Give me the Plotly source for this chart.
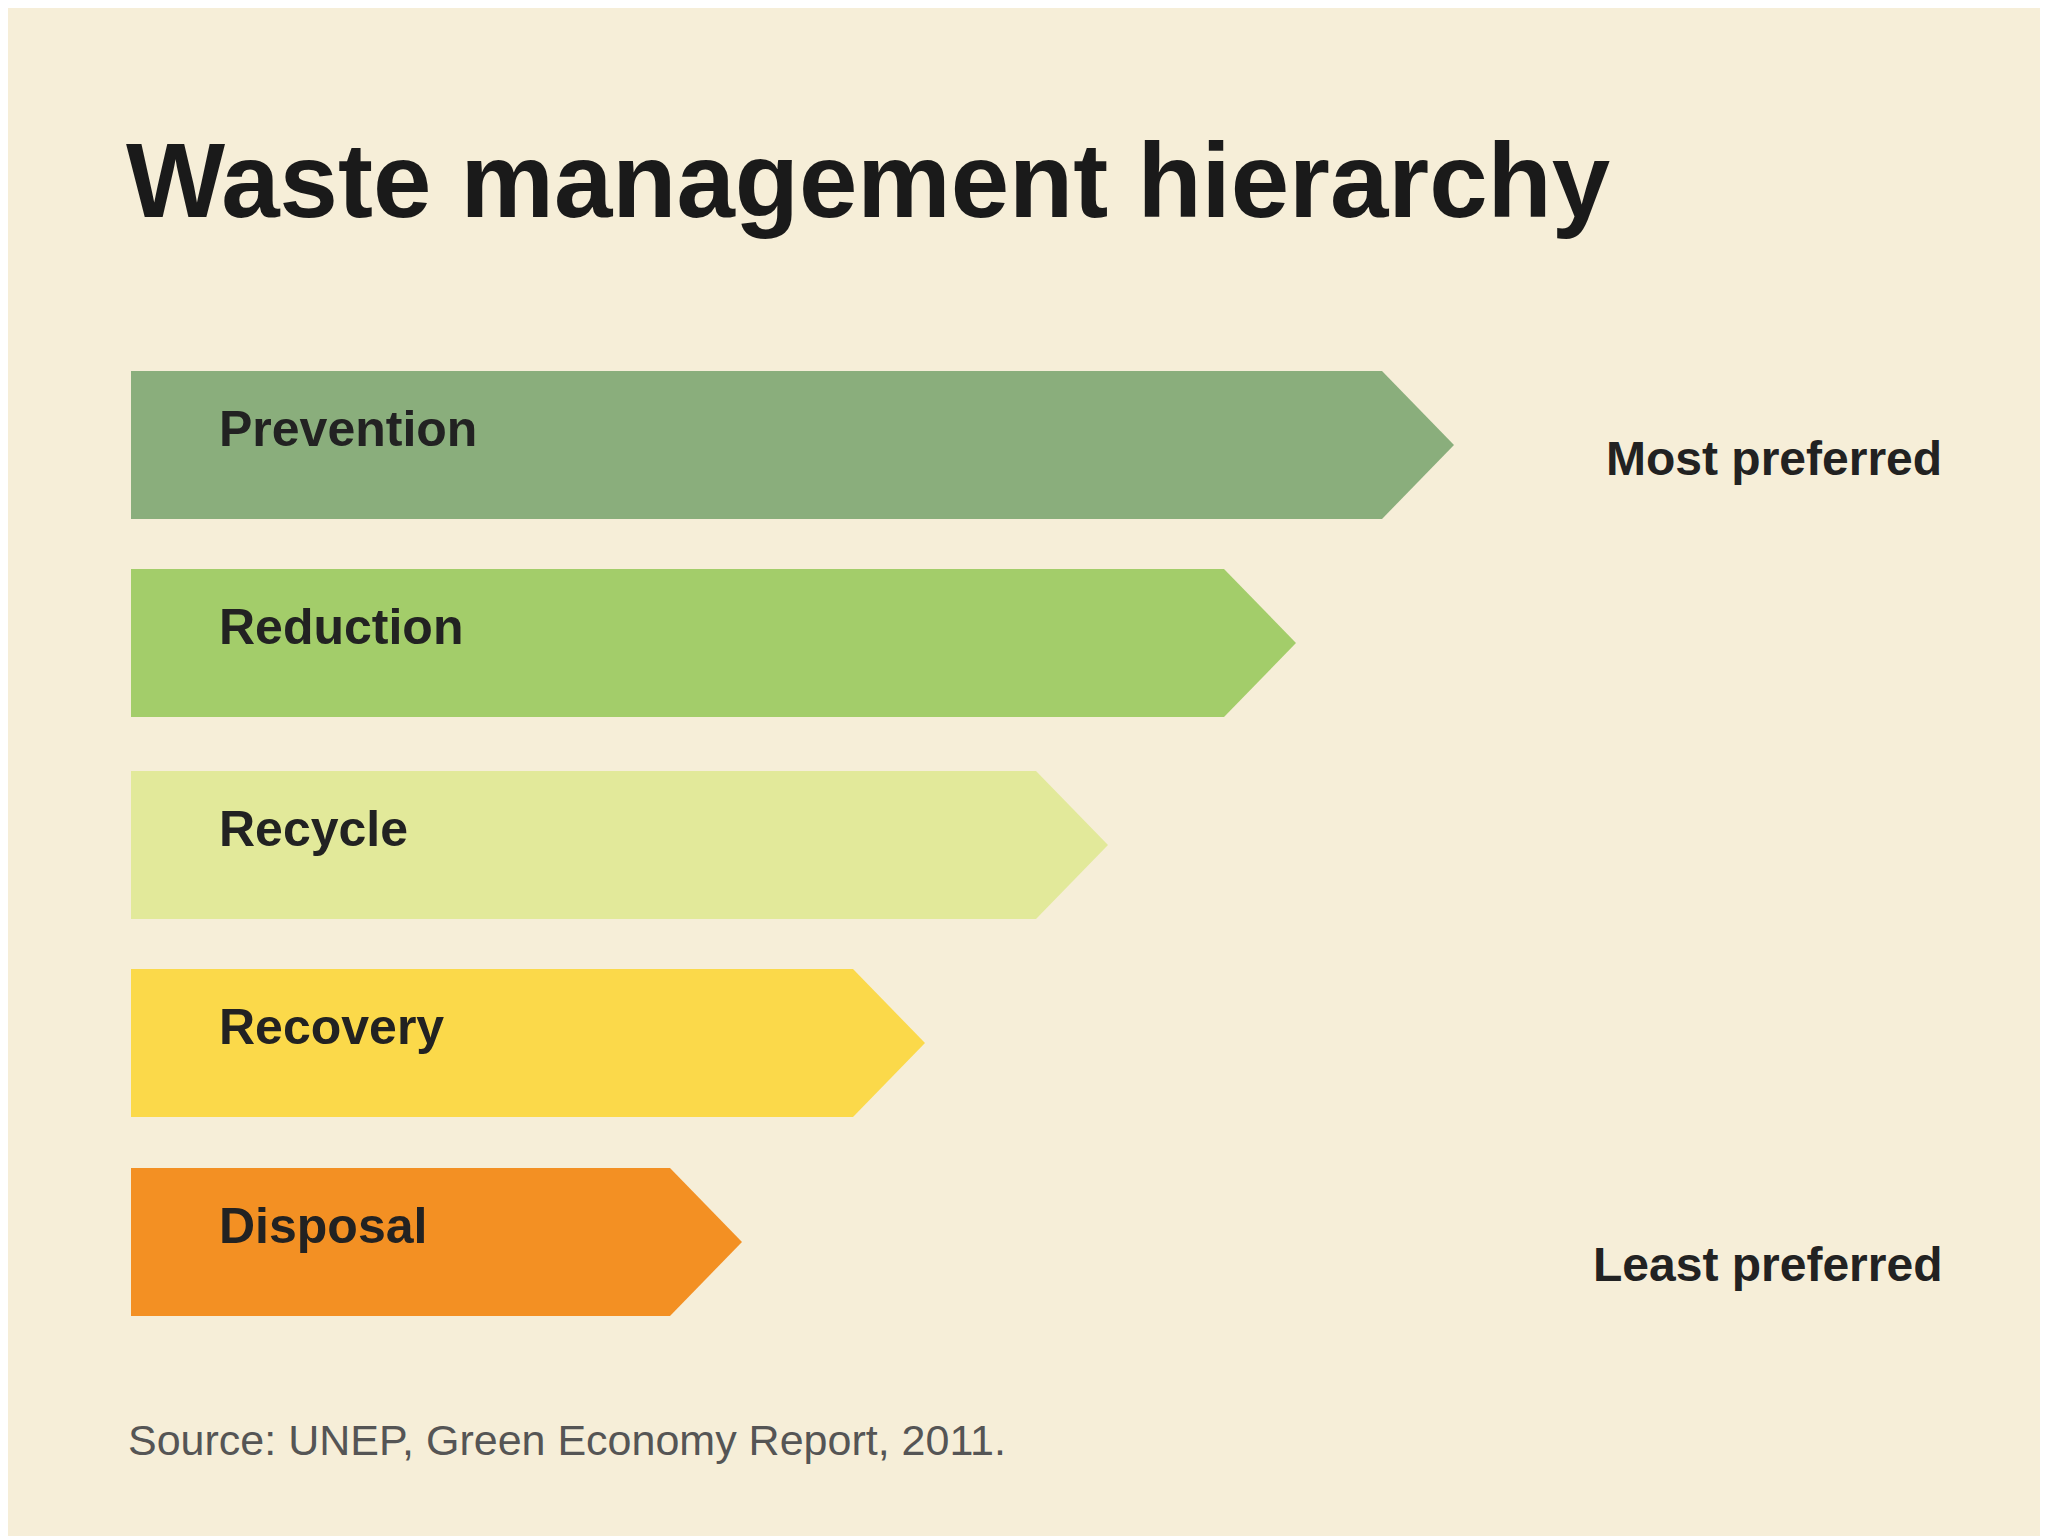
import plotly.graph_objects as go

categories = ["Prevention", "Reduction", "Recycle", "Recovery", "Disposal"]
lengths = [1323, 1165, 977, 794, 611]   # bar extent (tip) from left edge, chart units
colors = ["#8aae7c", "#a3cd6a", "#e2e99a", "#fbd94a", "#f39023"]
title = "Waste management hierarchy"
source = "Source: UNEP, Green Economy Report, 2011."

left = 123
tip = 72
height = 148
tops = [363, 561, 763, 961, 1160]

fig = go.Figure()
for cat, L, c, t in zip(categories, lengths, colors, tops):
    xe = left + L
    xs = [left, xe - tip, xe, xe - tip, left, left]
    ys = [t, t, t + height / 2, t + height, t + height, t]
    fig.add_trace(go.Scatter(x=xs, y=ys, fill="toself", fillcolor=c, mode="lines",
                             line=dict(width=0), hoverinfo="skip", showlegend=False))
    fig.add_annotation(x=left + 86, y=t + 58, text="<b>" + cat + "</b>", showarrow=False, xanchor="left",
                       font=dict(size=50, color="#222", family="Liberation Sans"))

fig.add_annotation(x=116, y=172, text="<b>" + title + "</b>", showarrow=False, xanchor="left",
                   font=dict(size=105, color="#1a1a1a", family="Liberation Sans"))
fig.add_annotation(x=1936, y=450, text="<b>Most preferred</b>", showarrow=False, xanchor="right",
                   font=dict(size=48, color="#222", family="Liberation Sans"))
fig.add_annotation(x=1936, y=1256, text="<b>Least preferred</b>", showarrow=False, xanchor="right",
                   font=dict(size=48, color="#222", family="Liberation Sans"))
fig.add_annotation(x=118, y=1432, text=source, showarrow=False, xanchor="left",
                   font=dict(size=43, color="#555", family="Liberation Sans"))

fig.update_layout(width=2048, height=1536, margin=dict(l=0, r=0, t=0, b=0),
                  paper_bgcolor="#f6eed8", plot_bgcolor="#f6eed8",
                  xaxis=dict(range=[0, 2048], visible=False, fixedrange=True),
                  yaxis=dict(range=[1536, 0], visible=False, fixedrange=True))
fig.write_html("out.html")
